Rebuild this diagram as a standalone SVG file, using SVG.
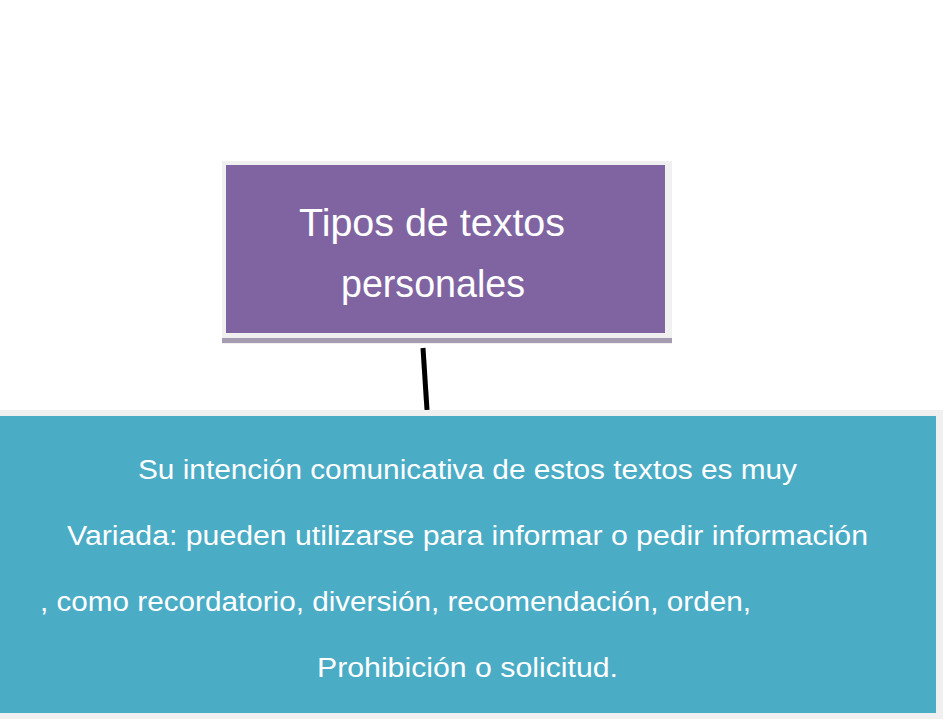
<svg xmlns="http://www.w3.org/2000/svg" width="948" height="720" viewBox="0 0 948 720">
<style>
.t{font-family:"Liberation Sans",Arial,sans-serif;fill:#ffffff}
.title{font-size:39px}
.body{font-size:27px}
.frame{fill:#f0f0f0}
</style>
<rect width="948" height="720" fill="#ffffff"/>
<g id="connectors">
<line x1="423" y1="348" x2="427" y2="410" stroke="#000000" stroke-width="5"/>
</g>
<g id="node-title">
<rect class="frame" x="222" y="161" width="450" height="183"/>
<rect x="222" y="338" width="450" height="5" fill="#a59cb1"/>
<rect x="226" y="165" width="439" height="168" fill="#8064a2"/>
<text class="t title" x="299" y="236" textLength="266" lengthAdjust="spacingAndGlyphs">Tipos de textos</text>
<text class="t title" x="341" y="297" textLength="184" lengthAdjust="spacingAndGlyphs">personales</text>
</g>
<g id="node-body">
<rect class="frame" x="0" y="410" width="943" height="309"/>
<rect x="0" y="416" width="936" height="297" fill="#4bacc6"/>
<text class="t body" x="138" y="479" textLength="659" lengthAdjust="spacingAndGlyphs">Su intención comunicativa de estos textos es muy</text>
<text class="t body" x="67" y="545" textLength="801" lengthAdjust="spacingAndGlyphs">Variada: pueden utilizarse para informar o pedir información</text>
<text class="t body" x="40" y="611" textLength="711" lengthAdjust="spacingAndGlyphs">, como recordatorio, diversión, recomendación, orden,</text>
<text class="t body" x="317" y="677" textLength="301" lengthAdjust="spacingAndGlyphs">Prohibición o solicitud.</text>
</g>
</svg>
